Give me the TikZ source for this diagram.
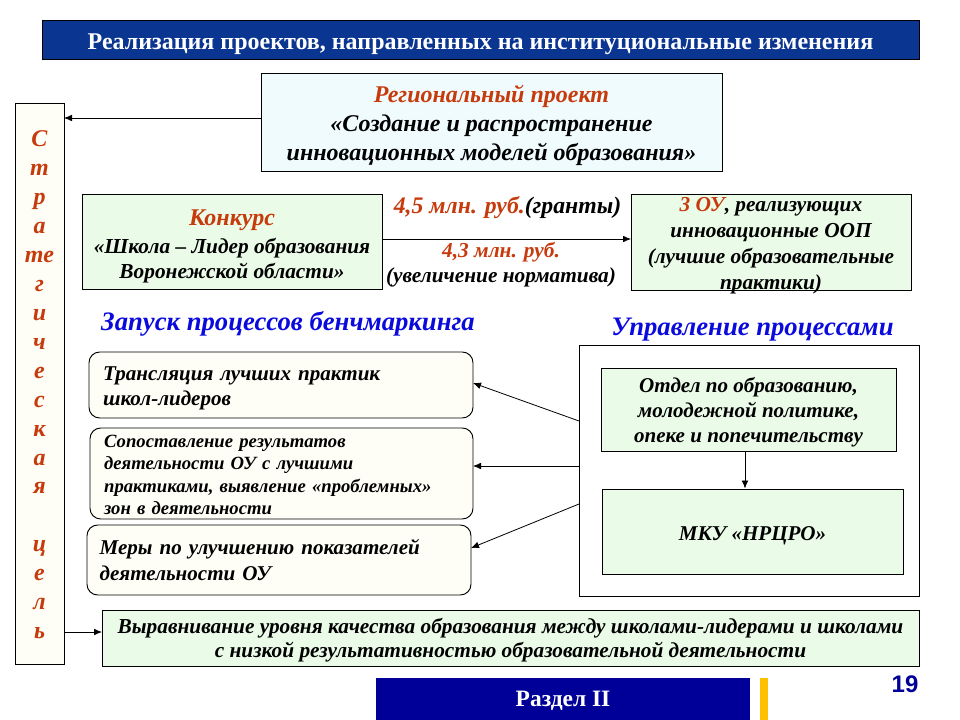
\documentclass[tikz,border=0pt]{standalone}
\usepackage{fontspec}
\setmainfont{Liberation Serif}
\newfontfamily\numfont{Liberation Sans}
\usetikzlibrary{arrows.meta}

\definecolor{navy}{HTML}{0A3591}
\definecolor{deepblue}{HTML}{000099}
\definecolor{headred}{HTML}{C63A0C}
\definecolor{headblue}{HTML}{0A0ADC}
\definecolor{palegreen}{HTML}{EAFBE8}
\definecolor{paleblue}{HTML}{F0FBFD}
\definecolor{cream}{HTML}{FEFEF6}
\definecolor{barorange}{HTML}{FFC000}

\tikzstyle{flatbox} = [draw=black, line width=0.7pt, rectangle, inner sep=0pt, align=center]
\tikzstyle{greenbox} = [flatbox, fill=palegreen]
\tikzstyle{roundbox} = [draw=black, line width=0.7pt, fill=cream, rectangle, rounded corners=8pt, inner sep=0pt, align=left]
\tikzstyle{heading} = [text=headblue, inner sep=0pt, font=\fontsize{20}{24}\selectfont\bfseries\itshape]
\tikzstyle{link} = [draw=black, line width=0.6pt, -{Latex[length=6pt,width=5pt]}]

\newcommand{\red}[1]{\textcolor{headred}{#1}}
\newcommand{\boxed}[2]{\fontsize{#1}{#2}\selectfont\bfseries\itshape}
\newcommand{\drop}[1]{\rule{0pt}{#1}}

\begin{document}
\begin{tikzpicture}[x=0.75pt, y=-0.75pt]
    \useasboundingbox (0,0) rectangle (960,720);
%------------ Title bar ---------------------
    \node [flatbox, fill=navy, text=white, minimum width=657.75pt, minimum height=29.25pt,
        font=\fontsize{18}{22}\selectfont\bfseries] (title) at (480.5,39.5)
        {\drop{18.5pt}Реализация проектов, направленных на институциональные изменения};
%------------ Upper boxes ---------------------
    \node [flatbox, fill=paleblue, minimum width=345.75pt, minimum height=73.5pt,
        font=\boxed{18}{21.75}] (regional) at (491.5,122)
        {\drop{18pt}\red{Региональный проект}\\«Создание и распространение\\инновационных моделей образования»};
    \node [flatbox, fill=cream, minimum width=36.75pt, minimum height=420.75pt,
        font=\boxed{18}{21.7}, text=headred] (goal) at (39.5,383.5)
        {\drop{14pt}С\\т\\р\\а\\те\\г\\и\\ч\\е\\с\\к\\а\\я\\[21.7pt]ц\\е\\л\\ь};
    \node [greenbox, minimum width=225pt, minimum height=71.25pt,
        font=\boxed{16}{19}] (contest) at (232,241.5)
        {\drop{19.5pt}\red{\fontsize{18}{19}\selectfont Конкурс}\\[2pt]«Школа – Лидер образования\\Воронежской области»};
    \node [greenbox, minimum width=210pt, minimum height=72pt,
        label={[yshift=-3pt, inner sep=0pt, align=center, font=\boxed{16}{19.5}]center:{\red{3 ОУ}, реализующих\\инновационные ООП\\(лучшие образовательные\\практики)}}]
        (schools) at (771,242) {};
%------------ Grant labels ---------------------
    \node [inner sep=0pt, font=\boxed{17.8}{20}] (grants) at (507.5,208) {\red{4,5 млн. руб.}(гранты)};
    \node [inner sep=0pt, align=center, font=\boxed{16}{19}] (norm) at (501,265)
        {\red{4,3 млн. руб.}\\(увеличение норматива)};
%------------ Headings ---------------------
    \node [heading] (launch) at (288,324) {Запуск процессов бенчмаркинга};
    \node [heading] (manage) at (752.5,329.5) {Управление процессами};
%------------ Left column ---------------------
    \node [roundbox, minimum width=288pt, minimum height=49.5pt, text width=267pt,
        font=\boxed{15.8}{19}] (transfer) at (281,385)
        {\drop{15.5pt}Трансляция лучших практик\\школ-лидеров};
    \node [roundbox, minimum width=287.25pt, minimum height=68.25pt, text width=266pt,
        font=\boxed{14}{16.75}] (compare) at (281.5,473.5)
        {\drop{11.5pt}Сопоставление результатов\\деятельности ОУ с лучшими\\практиками, выявление «проблемных»\\зон в деятельности};
    \node [roundbox, minimum width=288pt, minimum height=52.5pt, text width=269pt,
        font=\boxed{15.8}{19}] (measures) at (279,560)
        {Меры по улучшению показателей\\деятельности ОУ};
%------------ Right column ---------------------
    \node [flatbox, fill=white, minimum width=255pt, minimum height=188.25pt] (manager) at (749,470.5) {};
    \node [greenbox, minimum width=221.25pt, minimum height=62.25pt,
        font=\boxed{15.8}{18.75}] (department) at (748.5,409.5)
        {\drop{15.5pt}Отдел по образованию,\\молодежной политике,\\опеке и попечительству};
    \node [greenbox, minimum width=225.75pt, minimum height=63.75pt,
        font=\boxed{15.8}{19}] (center) at (752.5,531.5) {\drop{17pt}МКУ «НРЦРО»};
%------------ Bottom ---------------------
    \node [greenbox, minimum width=612.75pt, minimum height=42pt,
        font=\boxed{16}{18.25}] (result) at (510.5,638)
        {\drop{15pt}Выравнивание уровня качества образования между школами-лидерами и школами\\с низкой результативностью образовательной деятельности};
    \node [fill=deepblue, text=white, inner sep=0pt, minimum width=280.5pt, minimum height=31.5pt,
        font=\fontsize{17.6}{20}\selectfont\bfseries] (section) at (563,699) {\drop{15pt}Раздел II};
    \node [fill=barorange, inner sep=0pt, minimum width=6pt, minimum height=31.5pt] (bar) at (764,699) {};
    \node [text=deepblue, inner sep=0pt, font=\fontsize{18}{20}\selectfont\numfont\bfseries] (page) at (905,684) {19};
%------------ Connectors ---------------------
    \coordinate (outa) at (579,421);
    \coordinate (outb) at (579,466);
    \coordinate (outc) at (579,504);
    \coordinate (ina) at (473,383);
    \coordinate (inb) at (473,466);
    \coordinate (inc) at (471,548);
    \coordinate (goalin) at (64,118);
    \coordinate (goalout) at (64,632);
    \coordinate (resultin) at (102,632);
    \coordinate (regout) at (261,118);
    \coordinate (contestout) at (382,239);
    \coordinate (schoolsin) at (631,239);
    \draw [link] (regout) -- (goalin);
    \draw [link] (contestout) -- (schoolsin);
    \draw [link] (outa) -- (ina);
    \draw [link] (outb) -- (inb);
    \draw [link] (outc) -- (inc);
    \draw [link] (department.south -| 745,0) -- (center.north -| 745,0);
    \draw [link] (goalout) -- (resultin);
\end{tikzpicture}
\end{document}
